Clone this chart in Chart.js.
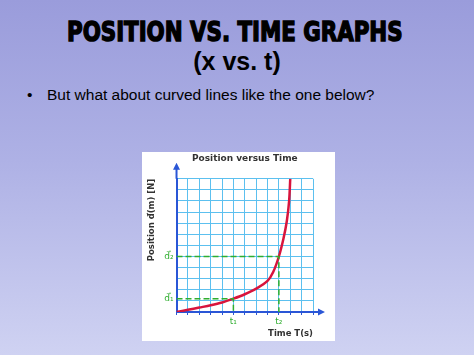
<!DOCTYPE html>
<html>
<head>
<meta charset="utf-8">
<script src="https://cdn.jsdelivr.net/npm/chart.js@4.4.0/dist/chart.umd.min.js"></script>
<style>
  body {
    margin: 0;
    width: 474px;
    height: 355px;
    overflow: hidden;
    position: relative;
    font-family: "Liberation Sans", Arial, sans-serif;
    background: linear-gradient(180deg, #9a9cdb 0%, #aeb1e5 45%, #cfd2f2 100%);
  }
  .title {
    position: absolute; left: 67px; top: 15px;
    white-space: nowrap;
    font-family: "DejaVu Sans", sans-serif;
    font-weight: 900;
    font-size: 27px;
    line-height: 34px;
    color: #000;
    -webkit-text-stroke: 1.5px #000;
    transform-origin: 0 0;
  }
  .sub {
    position: absolute; left: 0; width: 474px; top: 47px;
    text-align: center; font-size: 25px; font-weight: bold; color: #000;
  }
  .bullet {
    position: absolute; left: 27px; top: 86px; font-size: 15.5px; color: #000;
  }
  .bullet span { display: inline-block; width: 20px; }
  .box {
    position: absolute; left: 142px; top: 152px; width: 193px; height: 189px;
    background: #fff;
  }
</style>
</head>
<body>
<div class="title" id="ttl">POSITION VS. TIME GRAPHS</div>
<div class="sub">(x vs. t)</div>
<div class="bullet"><span>•</span>But what about curved lines like the one below?</div>
<div class="box"><canvas id="c" width="193" height="189"></canvas></div>

<script>
// squeeze the heading to the width it has on the slide
const ttl = document.getElementById("ttl");
ttl.style.transform = "scaleX(" + (336 / ttl.offsetWidth) + ")";

// curve (grid units)
const timeVals = [0, 1, 2, 3, 4, 5, 6, 7, 8, 8.5, 9, 9.4, 9.7, 9.9, 10];
const posVals = [0, 0.2, 0.4, 0.6, 0.85, 1.2, 1.6, 2.1, 2.8, 3.6, 5, 6.6, 8.2, 10, 12];

// marked times / positions
const t1 = 5, t2 = 9;
const d1 = 1.2, d2 = 5;

const xTickLabels = { 5: "t\u2081", 9: "t\u2082" };
const yTickLabels = { 1.2: "d\u20D7\u2081", 5: "d\u20D7\u2082" };
const gridVals = [0, 1, 2, 3, 4, 5, 6, 7, 8, 9, 10, 11, 12];

const blue = "#2a56d6";
const gridBlue = "#5cc0ef";
const green = "#2fae2f";

const curve = timeVals.map((t, i) => ({ x: t, y: posVals[i] }));
const guide = (t, d) => [{ x: 0, y: d }, { x: t, y: d }, { x: t, y: 0 }];

// axis arrows beyond the grid
const arrows = {
  id: "arrows",
  afterDraw(chart) {
    const { ctx, chartArea: a } = chart;
    ctx.save();
    ctx.strokeStyle = blue;
    ctx.fillStyle = blue;
    ctx.lineWidth = 2;
    ctx.beginPath();
    ctx.moveTo(a.right, a.bottom); ctx.lineTo(a.right + 8, a.bottom);
    ctx.moveTo(a.left, a.top); ctx.lineTo(a.left, a.top - 12);
    ctx.stroke();
    ctx.beginPath();
    ctx.moveTo(a.right + 12, a.bottom);
    ctx.lineTo(a.right + 5, a.bottom - 3.5);
    ctx.lineTo(a.right + 5, a.bottom + 3.5);
    ctx.closePath();
    ctx.moveTo(a.left, a.top - 16);
    ctx.lineTo(a.left - 3.5, a.top - 9);
    ctx.lineTo(a.left + 3.5, a.top - 9);
    ctx.closePath();
    ctx.fill();
    ctx.restore();
  }
};

const labelFont = { family: "DejaVu Sans", size: 8.5, weight: "bold" };

new Chart(document.getElementById("c"), {
  type: "scatter",
  data: {
    datasets: [
      {
        data: guide(t1, d1),
        showLine: true, borderColor: green, borderWidth: 1.5, borderDash: [6, 3],
        pointRadius: 0
      },
      {
        data: guide(t2, d2),
        showLine: true, borderColor: green, borderWidth: 1.5, borderDash: [6, 3],
        pointRadius: 0
      },
      {
        data: curve,
        showLine: true, borderColor: "#d8143c", borderWidth: 2.5,
        tension: 0.3, pointRadius: 0
      }
    ]
  },
  plugins: [arrows],
  options: {
    responsive: false,
    animation: false,
    layout: { padding: { left: 5, right: 22, top: 0, bottom: 2 } },
    plugins: {
      legend: { display: false },
      tooltip: { enabled: false },
      title: {
        display: true,
        fullSize: false,
        text: "Position versus Time",
        color: "#333",
        font: { family: "DejaVu Sans", size: 9, weight: "bold" },
        padding: { top: 1, bottom: 15 }
      }
    },
    scales: {
      x: {
        type: "linear", min: 0, max: 12,
        afterBuildTicks: s => { s.ticks = gridVals.map(v => ({ value: v })); },
        ticks: {
          autoSkip: false, maxRotation: 0, padding: 1,
          color: green, font: { family: "DejaVu Sans", size: 9 },
          callback: v => xTickLabels[v] || ""
        },
        grid: { color: gridBlue, lineWidth: 1, tickLength: 3, tickColor: blue },
        border: { color: blue, width: 2 },
        title: {
          display: true, text: "Time T(s)", align: "end",
          color: "#333", font: labelFont, padding: { top: 1, bottom: 0 }
        }
      },
      y: {
        type: "linear", min: 0, max: 12,
        afterBuildTicks: s => {
          s.ticks = gridVals.concat([d1]).sort((a, b) => a - b).map(v => ({ value: v }));
        },
        ticks: {
          autoSkip: false, padding: 3,
          color: green, font: { family: "DejaVu Sans", size: 9 },
          callback: v => yTickLabels[v] || ""
        },
        grid: {
          color: c => Number.isInteger(c.tick && c.tick.value) ? gridBlue : "rgba(0,0,0,0)",
          lineWidth: 1, tickLength: 0
        },
        border: { color: blue, width: 2 },
        title: {
          display: true, text: "Position d\u20D7(m) [N]", align: "end",
          color: "#333", font: labelFont, padding: { top: 0, bottom: 4 }
        }
      }
    }
  }
});
</script>
</body>
</html>
